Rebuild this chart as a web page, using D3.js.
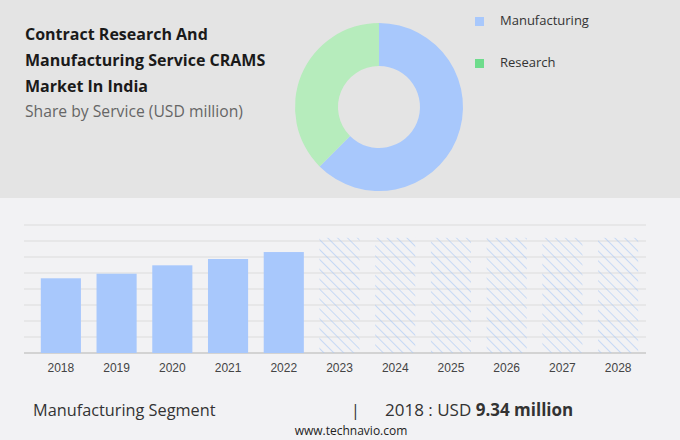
<!DOCTYPE html>
<html>
<head>
  <meta charset="UTF-8">
  <style>
    body {
      margin: 0;
      background-color: #f2f2f4;
      font-family: "Open Sans", Arial, sans-serif;
    }
    svg {
      display: block;
    }
  </style>
</head>
<body>

<svg width="680" height="440"></svg>

<script src="https://d3js.org/d3.v7.min.js"></script>

<script>
// share by service (donut)
let services = ["Manufacturing", "Research"];
let shares = [62.5, 37.5];

// bar chart, USD million
let years = ["2018", "2019", "2020", "2021", "2022", "2023", "2024", "2025", "2026", "2027", "2028"];
let values = [9.34, 9.91, 10.96, 11.75, 12.62, 14.4, 14.4, 14.4, 14.4, 14.4, 14.4];
let forecast = [false, false, false, false, false, true, true, true, true, true, true];
let gridTicks = [0, 2, 4, 6, 8, 10, 12, 14, 16];

let width = 680, height = 440;
let svg = d3.select("svg");

let defs = svg.append("defs");
let pat = defs.append("pattern")
    .attr("id", "hatch")
    .attr("patternUnits", "userSpaceOnUse")
    .attr("width", 7)
    .attr("height", 7)
    .attr("patternTransform", "rotate(-45)");
pat.append("line")
    .attr("x1", 0).attr("y1", 0)
    .attr("x2", 0).attr("y2", 7)
    .attr("stroke", "#a9c8f5")
    .attr("stroke-width", 1.2);

// top panel
svg.append("rect")
    .attr("x", 0).attr("y", 0)
    .attr("width", width).attr("height", 198)
    .attr("fill", "#e4e4e4");

let title = svg.append("text")
    .attr("x", 25)
    .attr("font-size", 16)
    .attr("font-weight", "bold")
    .attr("fill", "#1a1a1a");
["Contract Research And", "Manufacturing Service CRAMS", "Market In India"].forEach((t, i) => {
  title.append("tspan").attr("x", 25).attr("y", 40 + i * 26).text(t);
});

svg.append("text")
    .attr("x", 25).attr("y", 117)
    .attr("font-size", 15.7)
    .attr("fill", "#666")
    .text("Share by Service (USD million)");

// donut
let pieColors = d3.scaleOrdinal().domain(services).range(["#a8c8fc", "#b6ecbc"]);
let legendColors = d3.scaleOrdinal().domain(services).range(["#a8c8fc", "#6edc8c"]);

let pie = d3.pie().sort(null);
let arc = d3.arc().innerRadius(41).outerRadius(84);

svg.append("g")
    .attr("transform", "translate(379,107)")
    .selectAll("path")
    .data(pie(shares))
    .enter()
    .append("path")
    .attr("d", arc)
    .attr("fill", (d, i) => pieColors(services[i]));

let legend = svg.append("g")
    .selectAll("g")
    .data(services)
    .enter()
    .append("g")
    .attr("transform", (d, i) => "translate(475," + (17 + i * 42) + ")");
legend.append("rect")
    .attr("width", 9).attr("height", 9)
    .attr("fill", d => legendColors(d));
legend.append("text")
    .attr("x", 25).attr("y", 8)
    .attr("font-size", 13)
    .attr("fill", "#333")
    .text(d => d);

// bar chart
let x = d3.scaleBand()
    .domain(years)
    .range([33, 646])
    .paddingInner(0.28)
    .paddingOuter(0.14);

let y = d3.scaleLinear()
    .domain([0, 16])
    .range([353, 225]);

svg.append("g")
    .selectAll("line")
    .data(gridTicks)
    .enter()
    .append("line")
    .attr("x1", 24).attr("x2", 646)
    .attr("y1", d => y(d)).attr("y2", d => y(d))
    .attr("stroke", d => d == 0 ? "#c8c8c8" : "#dcdcdc")
    .attr("stroke-width", d => d == 0 ? 1.5 : 1);

svg.append("g")
    .selectAll("rect")
    .data(years)
    .enter()
    .append("rect")
    .attr("x", d => x(d))
    .attr("width", x.bandwidth())
    .attr("y", (d, i) => y(values[i]))
    .attr("height", (d, i) => y(0) - y(values[i]))
    .attr("fill", (d, i) => forecast[i] ? "url(#hatch)" : "#a8c8fc");

let xAxis = svg.append("g")
    .attr("transform", "translate(0,353)")
    .call(d3.axisBottom(x).tickSize(0).tickPadding(10));
xAxis.select(".domain").remove();
xAxis.selectAll("text")
    .attr("font-family", "Arial, sans-serif")
    .attr("font-size", 12)
    .attr("fill", "#444");

// footer
svg.append("text")
    .attr("x", 33).attr("y", 416)
    .attr("font-size", 16.3)
    .attr("fill", "#333")
    .text("Manufacturing Segment");

svg.append("text")
    .attr("x", 351).attr("y", 416)
    .attr("font-size", 16)
    .attr("fill", "#333")
    .text("|");

let val = svg.append("text")
    .attr("x", 385).attr("y", 416)
    .attr("font-size", 17)
    .attr("fill", "#333");
val.append("tspan").text("2018 : USD ");
val.append("tspan").attr("font-weight", "bold").text("9.34 million");

svg.append("text")
    .attr("x", 351).attr("y", 435)
    .attr("text-anchor", "middle")
    .attr("font-size", 12)
    .attr("fill", "#222")
    .text("www.technavio.com");
</script>

</body>
</html>
